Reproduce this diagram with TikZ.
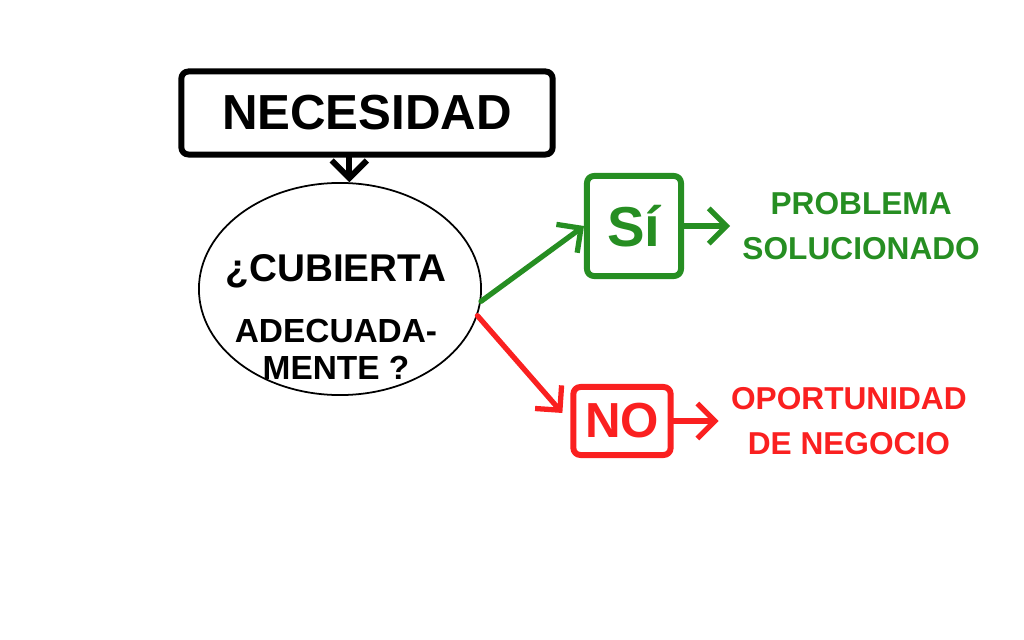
\documentclass[tikz,border=0pt]{standalone}
\usepackage{fontspec}
\setmainfont{Liberation Sans}
\usepackage{tikz}
\usetikzlibrary{arrows.meta,shapes.geometric,positioning}
\definecolor{verde}{RGB}{38,142,34}
\definecolor{rojo}{RGB}{250,32,32}

\begin{document}
\begin{tikzpicture}[x=0.01cm, y=-0.01cm,
        caja/.style = {draw, line width=1.7pt, rounded corners=2pt, line join=round},
        flecha/.style = {line width=1.5pt, line cap=round, -{Straight Barb[length=5pt,width=10pt]}},
        texto/.style = {align=center, font=\bfseries\fontsize{9}{13}\selectfont}]
    \useasboundingbox (0,0) rectangle (1024,640);
    \node [caja, minimum width=3.71cm, minimum height=0.83cm, font=\bfseries\fontsize{14}{16}\selectfont] (necesidad) at (367,113) {NECESIDAD};
    \node [ellipse, draw, line width=0.5pt, minimum width=2.82cm, minimum height=2.12cm] (pregunta) at (340,289) {};
    \node [align=center, font=\bfseries\fontsize{9.5}{10.5}\selectfont] (preguntatxt) at (336,317)
        {{\fontsize{11}{12}\selectfont ¿CUBIERTA}\\[7pt] ADECUADA-\\ MENTE ?};
    \draw [flecha, line width=1.7pt] (necesidad.south -| pregunta.85) -- (pregunta.85);
    % rama del si
    \node [caja, draw=verde, text=verde, minimum width=0.94cm, minimum height=1.0cm, font=\bfseries\fontsize{16}{18}\selectfont] (si) at (634,226) {Sí};
    \draw [flecha, verde] (pregunta.-5) -- (si.west);
    \node [texto, text=verde, right=4.6mm of si] (problema) {PROBLEMA\\SOLUCIONADO};
    \draw [flecha, verde] (si) -- (problema);
    % rama del no
    \node [caja, draw=rojo, text=rojo, minimum width=0.89cm, minimum height=0.68cm, font=\bfseries\fontsize{14}{16}\selectfont] (no) at (622,421) {NO};
    \draw [flecha, rojo] (pregunta.-11) -- ([xshift=-0.8mm,yshift=0.8mm]no.west);
    \node [texto, text=rojo, right=4.5mm of no] (oportunidad) {OPORTUNIDAD\\DE NEGOCIO};
    \draw [flecha, rojo] (no) -- (oportunidad);
\end{tikzpicture}
\end{document}
